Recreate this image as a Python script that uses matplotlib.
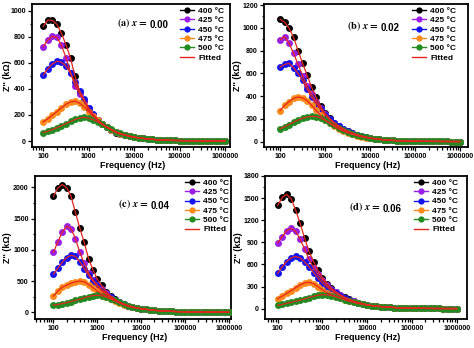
import matplotlib
matplotlib.use("Agg")
import matplotlib.pyplot as plt
from matplotlib.lines import Line2D
from matplotlib.ticker import FixedLocator, FuncFormatter, LogLocator, MultipleLocator, NullFormatter

plt.rcParams['font.family'] = ['Liberation Sans', 'DejaVu Sans']
plt.rcParams['font.weight'] = 'bold'
plt.rcParams['mathtext.fontset'] = 'stix'

# Measurement frequencies (Hz)
freq = [100, 126, 158, 200, 251, 316, 398, 501, 631, 794,
        1000, 1259, 1585, 1995, 2512, 3162, 3981, 5012, 6310, 7943,
        10000, 12589, 15849, 19953, 25119, 31623, 39811, 50119, 63096, 79433,
        100000, 125893, 158489, 199526, 251189, 316228, 398107, 501187, 630957, 794328,
        1000000]

temps = ['400 °C', '425 °C', '450 °C', '475 °C', '500 °C']

# Z'' (kOhm), x = 0.00
a400 = [880, 928, 925, 895, 826, 739, 635, 496, 378, 305, 238, 198, 159, 127, 106, 86, 65, 53, 45, 36,
        28, 25, 20, 16, 13, 10, 8, 7, 5, 4, 3.5, 3, 2.5, 2, 2, 1.5, 1.5, 1, 1, 1, 1]
a425 = [724, 775, 803, 795, 735, 640, 525, 425, 360, 310, 250, 200, 160, 128, 106, 86, 66, 54, 45, 36,
        28, 25, 20, 16, 13, 10, 8, 7, 5, 4, 3.5, 3, 2.5, 2, 2, 1.5, 1.5, 1, 1, 1, 1]
a450 = [506, 555, 590, 612, 605, 575, 520, 450, 385, 320, 255, 205, 163, 130, 106, 86, 67, 54, 45, 36,
        29, 25, 20, 16, 13, 10, 8, 7, 5, 4, 3.5, 3, 2.5, 2, 2, 1.5, 1.5, 1, 1, 1, 1]
a475 = [148, 170, 198, 225, 255, 282, 300, 305, 290, 262, 225, 190, 158, 130, 105, 85, 68, 55, 45, 36,
        29, 25, 20, 16, 13, 10, 8, 7, 5, 4, 3.5, 3, 2.5, 2, 2, 1.5, 1.5, 1, 1, 1, 1]
a500 = [64, 75, 88, 102, 117, 133, 150, 165, 177, 181, 176, 163, 146, 127, 108, 89, 72, 58, 47, 38,
        31, 25, 20, 16, 13, 10, 8, 7, 5, 4, 3.5, 3, 2.5, 2, 2, 1.5, 1.5, 1, 1, 1, 1]

# Z'' (kOhm), x = 0.02
b400 = [1075, 1050, 998, 915, 800, 690, 585, 480, 390, 311, 250, 205, 168, 138, 112, 92, 75, 61, 50, 40,
        32, 26, 21, 17, 14, 11, 9, 7, 6, 5, 4, 3.5, 3, 2.5, 2, 2, 1.5, 1.5, 1, 1, 1]
b425 = [895, 922, 865, 775, 680, 580, 490, 420, 352, 298, 245, 200, 165, 136, 111, 91, 74, 61, 50, 40,
        32, 26, 21, 17, 14, 11, 9, 7, 6, 5, 4, 3.5, 3, 2.5, 2, 2, 1.5, 1.5, 1, 1, 1]
b450 = [655, 678, 688, 650, 600, 538, 460, 392, 335, 285, 238, 197, 163, 134, 110, 90, 74, 60, 49, 40,
        32, 26, 21, 17, 14, 11, 9, 7, 6, 5, 4, 3.5, 3, 2.5, 2, 2, 1.5, 1.5, 1, 1, 1]
b475 = [273, 318, 352, 380, 392, 385, 360, 320, 275, 230, 190, 160, 135, 112, 93, 78, 64, 53, 44, 36,
        30, 26, 21, 17, 14, 11, 9, 7, 6, 5, 4, 3.5, 3, 2.5, 2, 2, 1.5, 1.5, 1, 1, 1]
b500 = [113, 130, 150, 170, 190, 205, 217, 223, 220, 208, 188, 166, 143, 121, 101, 84, 69, 57, 46, 38,
        31, 26, 21, 17, 14, 11, 9, 7, 6, 5, 4, 3.5, 3, 2.5, 2, 2, 1.5, 1.5, 1, 1, 1]

# Z'' (kOhm), x = 0.04
c400 = [1855, 1990, 2045, 1995, 1860, 1600, 1350, 1120, 860, 680, 530, 430, 330, 265, 208, 165, 130, 105, 85, 70,
        58, 48, 40, 33, 27, 22, 18, 15, 12, 10, 8, 7, 6, 5, 4, 3.5, 3, 2.5, 2, 2, 2]
c425 = [960, 1130, 1280, 1380, 1340, 1180, 960, 790, 630, 520, 440, 368, 305, 250, 200, 160, 128, 103, 84, 69,
        57, 48, 40, 33, 27, 22, 18, 15, 12, 10, 8, 7, 6, 5, 4, 3.5, 3, 2.5, 2, 2, 2]
c450 = [610, 705, 800, 875, 912, 895, 810, 700, 595, 500, 415, 341, 285, 238, 195, 158, 127, 102, 83, 68,
        56, 48, 40, 33, 27, 22, 18, 15, 12, 10, 8, 7, 6, 5, 4, 3.5, 3, 2.5, 2, 2, 2]
c475 = [260, 340, 400, 435, 465, 488, 500, 490, 445, 395, 340, 290, 250, 215, 180, 148, 120, 98, 80, 66,
        55, 48, 40, 33, 27, 22, 18, 15, 12, 10, 8, 7, 6, 5, 4, 3.5, 3, 2.5, 2, 2, 2]
c500 = [115, 125, 140, 155, 172, 190, 210, 232, 252, 268, 272, 265, 245, 220, 190, 160, 132, 108, 88, 72,
        58, 48, 40, 33, 27, 22, 18, 15, 12, 10, 8, 7, 6, 5, 4, 3.5, 3, 2.5, 2, 2, 2]

# Z'' (kOhm), x = 0.06
d400 = [1400, 1510, 1550, 1490, 1340, 1160, 960, 776, 640, 520, 420, 340, 280, 230, 190, 155, 125, 100, 82, 66,
        54, 42, 35, 29, 24, 20, 16, 13, 11, 9, 7, 6, 5, 4, 3.5, 3, 2.5, 2, 2, 1.5, 1.5]
d425 = [895, 978, 1060, 1090, 1050, 945, 810, 670, 555, 465, 390, 325, 270, 222, 183, 150, 122, 99, 80, 65,
        53, 42, 35, 29, 24, 20, 16, 13, 11, 9, 7, 6, 5, 4, 3.5, 3, 2.5, 2, 2, 1.5, 1.5]
d450 = [480, 570, 640, 690, 708, 690, 635, 570, 490, 415, 350, 295, 248, 208, 172, 142, 117, 96, 78, 64,
        52, 42, 35, 29, 24, 20, 16, 13, 11, 9, 7, 6, 5, 4, 3.5, 3, 2.5, 2, 2, 1.5, 1.5]
d475 = [135, 170, 208, 245, 285, 320, 350, 358, 340, 300, 255, 218, 188, 162, 140, 120, 102, 86, 72, 60,
        50, 42, 35, 29, 24, 20, 16, 13, 11, 9, 7, 6, 5, 4, 3.5, 3, 2.5, 2, 2, 1.5, 1.5]
d500 = [45, 58, 72, 86, 100, 115, 132, 150, 168, 182, 190, 188, 178, 162, 142, 122, 103, 87, 72, 60,
        50, 42, 35, 29, 24, 20, 16, 13, 11, 9, 7, 6, 5, 4, 3.5, 3, 2.5, 2, 2, 1.5, 1.5]

compositions = ['0.00', '0.02', '0.04', '0.06']
letters = ['(a)', '(b)', '(c)', '(d)']
panel_series = [[a400, a425, a450, a475, a500],
                [b400, b425, b450, b475, b500],
                [c400, c425, c450, c475, c500],
                [d400, d425, d450, d475, d500]]
y_max_tick = [1000, 1200, 2000, 1800]
y_step = [200, 200, 500, 300]
decade_ticks = [100, 1000, 10000, 100000, 1000000]

colors = ['#000000', '#9A1FE6', '#1414F0', '#FF8A1C', '#228B22']
fit_color = '#E3261E'

W, H = 474, 348
fig = plt.figure(figsize=(W / 100, H / 100), dpi=100)


def px_axes(left, top, right, bottom):
    return fig.add_axes([left / W, 1 - bottom / H, (right - left) / W, (bottom - top) / H])


layout = [
    # box (l, t, r, b), xlim, ylim, label pos, legend anchor, y-title x
    dict(box=(32, 4, 230, 147), xlim=(56.5, 1.29e6), ylim=(-46, 1051), lab=(117, 23), leg=(180, 7), yt=7),
    dict(box=(264, 4, 468, 147), xlim=(44, 1.5e6), ylim=(-47, 1209), lab=(347, 26), leg=(412, 7), yt=238),
    dict(box=(35, 176, 231, 319), xlim=(38, 1.11e6), ylim=(-107, 2181), lab=(118, 204), leg=(185, 179), yt=7),
    dict(box=(265, 176, 467, 319), xlim=(52, 1.7e6), ylim=(-140, 1800), lab=(349, 207), leg=(414, 179), yt=239),
]

for k, spec in enumerate(layout):
    l, t, r, b = spec['box']
    ax = px_axes(l, t, r, b)
    series = panel_series[k]
    for i, vals in enumerate(series):
        ax.plot(freq, vals, linestyle='none', marker='o', markersize=5.0,
                color=colors[i], markeredgewidth=0, zorder=2 + i)
    for vals in series:
        ax.plot(freq, vals, color=fit_color, lw=0.9, zorder=10)

    ax.set_xscale('log')
    ax.set_xlim(*spec['xlim'])
    ax.set_ylim(*spec['ylim'])
    ax.xaxis.set_major_locator(FixedLocator(decade_ticks))
    ax.xaxis.set_major_formatter(FuncFormatter(lambda v, p: f"{int(round(v))}"))
    ax.xaxis.set_minor_locator(LogLocator(base=10, subs=range(2, 10), numticks=20))
    ax.xaxis.set_minor_formatter(NullFormatter())
    ax.yaxis.set_major_locator(FixedLocator(list(range(0, y_max_tick[k] + 1, y_step[k]))))
    ax.yaxis.set_major_formatter(FuncFormatter(lambda v, p: f"{int(v)}"))
    ax.yaxis.set_minor_locator(MultipleLocator(y_step[k] / 2))
    ax.tick_params(which='both', direction='out', top=False, right=False, width=0.9,
                   labelsize=5, pad=1.5)
    ax.tick_params(which='major', length=3)
    ax.tick_params(which='minor', length=1.8)
    for sp in ax.spines.values():
        sp.set_linewidth(1.3)
    for lbl in ax.get_xticklabels() + ax.get_yticklabels():
        lbl.set_fontweight('bold')

    # axis titles
    fig.text((l + r) / 2 / W + 2 / W, 1 - (b + 19) / H, 'Frequency (Hz)', ha='center', va='center',
             fontsize=6.5, fontweight='bold')
    fig.text(spec['yt'] / W, 1 - (t + b) / 2 / H, "Z'' (kΩ)", ha='center', va='center',
             rotation=90, fontsize=6.5, fontweight='bold')

    # composition label
    lx, ly = spec['lab']
    t1 = fig.text(lx / W, 1 - ly / H, r"$\mathbf{" + letters[k] + r"}\ \mathit{x} = $",
                  ha='left', va='center', fontsize=7.5)
    ax.annotate(compositions[k], xy=(1, 0), xycoords=t1, xytext=(1.5, 0), textcoords='offset points',
                ha='left', va='bottom', fontsize=7, fontweight='bold', annotation_clip=False)

    # legend
    handles = [Line2D([], [], color=colors[i], marker='o', markersize=4.5, markeredgewidth=0, lw=1)
               for i in range(5)]
    handles.append(Line2D([], [], color=fit_color, lw=1))
    gx, gy = spec['leg']
    ax.legend(handles, temps + ['Fitted'], loc='upper left',
              bbox_to_anchor=(gx / W, 1 - gy / H), bbox_transform=fig.transFigure,
              frameon=False, handlelength=1.7, handletextpad=0.5,
              labelspacing=0.18, borderpad=0, borderaxespad=0,
              prop=dict(weight='bold', size=6))

fig.savefig('out.png', dpi=100)
